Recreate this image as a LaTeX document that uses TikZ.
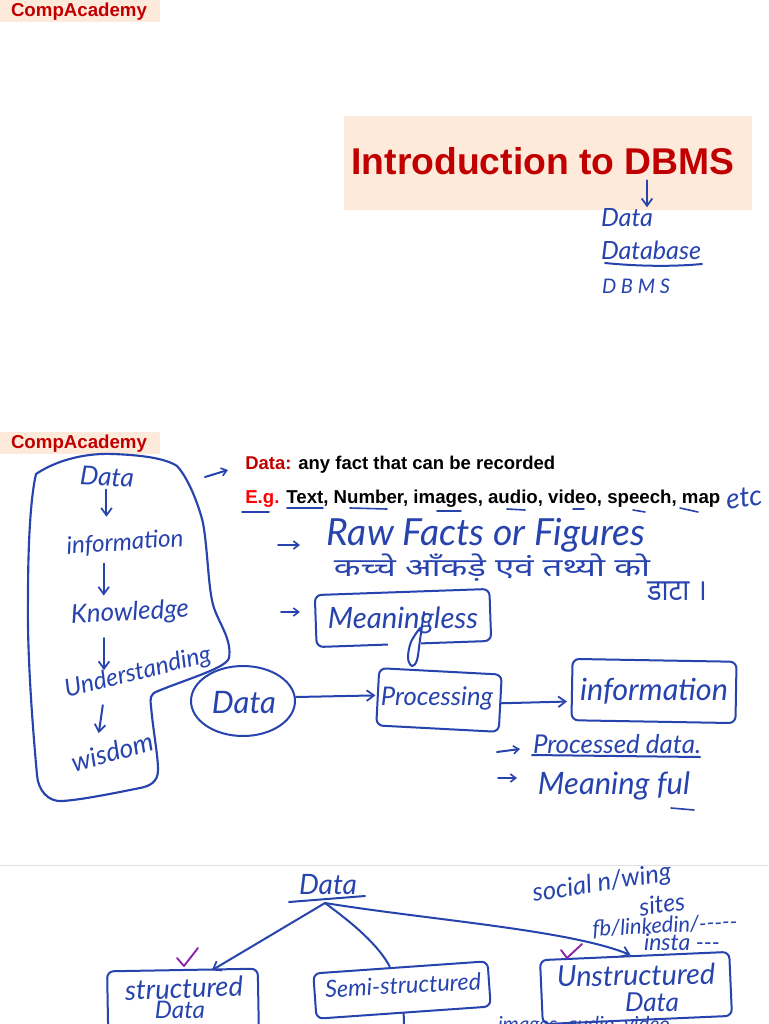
\documentclass[tikz,border=0pt]{standalone}
\usepackage{graphicx}
\usepackage{fontspec}
\setmainfont{Liberation Sans}
\newfontfamily\hand{Lato}
\newfontfamily\handdev[Script=Devanagari]{Noto Sans}
\usetikzlibrary{arrows.meta,shapes.geometric}
\definecolor{ink}{HTML}{2743AD}
\definecolor{peach}{HTML}{FDEADA}
\definecolor{darkred}{HTML}{C00000}
\definecolor{tick}{HTML}{8A22A8}
\newcommand\fitw[2]{\resizebox{\dimexpr #1pt*3/4\relax}{!}{#2}}
\newcommand\hw[2]{\fitw{#1}{\hand\itshape #2}}
\tikzset{
  ink line/.style={draw=ink,line width=1.5pt,line cap=round,line join=round},
  harr/.style={ink line,-{Straight Barb[length=5.5pt,width=8pt,line width=1.3pt]}},
  sarr/.style={ink line,-{Straight Barb[length=4pt,width=6pt,line width=1.2pt]}},
  hbox/.style={ink line,rectangle,rounded corners=5pt,inner sep=0pt,fill=none},
  hw text/.style={text=ink,inner sep=0pt},
  print/.style={inner sep=0pt,anchor=west},
  header/.style={fill=peach,draw=none},
  uline/.style={ink line,line width=1.2pt},
  checkm/.style={draw=tick,line width=1.4pt,line cap=round,line join=round},
}
\begin{document}
\begin{tikzpicture}[x=0.75pt,y=-0.75pt]
\path[use as bounding box,clip] (0,0) rectangle (768,1024);
\fill[white] (0,0) rectangle (768,1024);

% ---------- slide 1
\fill[header] (0,0) rectangle (160,22);
\node[inner sep=0pt,text=darkred] (h1) at (79,12) {\fitw{136}{\bfseries CompAcademy}};
\fill[header] (344,116) rectangle (752,210);
\node[inner sep=0pt,text=darkred] (title) at (543,161) {\fitw{383}{\bfseries Introduction to DBMS}};
\node[hw text] (a1) at (627,218) {\hw{52}{Data}};
\node[hw text] (a2) at (651,250) {\hw{100}{Database}};
\node[hw text] (a3) at (636,286) {\hw{68}{D B M S}};
\draw[harr] ([xshift=78pt,yshift=-4pt]title.south) -- ([xshift=15pt,yshift=1pt]a1.north);
\draw[uline,line width=1.5pt] (605,263) .. controls (635,266) and (670,267) .. (702,264);

% ---------- slide 2
\fill[header] (0,432) rectangle (160,454);
\node[inner sep=0pt,text=darkred] (h2) at (79,444) {\fitw{136}{\bfseries CompAcademy}};

\node[print] (t1) at (245,465) {\fitw{310}{\bfseries \textcolor{darkred}{Data:} any fact that can be recorded}};
\node[print] (t2) at (245,499) {\fitw{475}{\bfseries \textcolor{red}{E.g.} Text, Number, images, audio, video, speech, map}};
\node[hw text,rotate=8] (etc) at (744,498) {\hw{36}{etc}};
\foreach \a/\b/\c/\d in {242/512/269/512,287/508/323/508,350/508/387/509,437/511/461/511,507/509/525/510,573/509/584/509,633/510/645/512,680/508/698/512}
  \draw[uline] (\a,\b) -- (\c,\d);

% blob
\draw[ink line,line width=1.6pt] (36,474) .. controls (60,458) and (90,453) .. (113,454)
  .. controls (140,455) and (165,458) .. (177,466)
  .. controls (190,480) and (200,510) .. (203,523)
  .. controls (208,550) and (208,590) .. (214,608)
  .. controls (220,625) and (232,640) .. (229,658)
  .. controls (226,668) and (190,678) .. (158,691)
  .. controls (150,694) and (150,698) .. (151,706)
  .. controls (153,730) and (158,755) .. (158,770)
  .. controls (158,782) and (150,786) .. (140,788)
  .. controls (110,794) and (80,800) .. (62,801)
  .. controls (48,802) and (38,790) .. (37,775)
  .. controls (32,720) and (27,650) .. (28,597)
  .. controls (28,550) and (30,500) .. (36,474) -- cycle;
\node[hw text,rotate=-3] (d1) at (107,477) {\hw{54}{Data}};
\node[hw text,rotate=4] (d2) at (125,543) {\hw{117}{information}};
\node[hw text,rotate=3] (d3) at (130,613) {\hw{118}{Knowledge}};
\node[hw text,rotate=14] (d4) at (138,673) {\hw{150}{Understanding}};
\node[hw text,rotate=16] (d5) at (112,752) {\hw{84}{wisdom}};
\draw[harr] (d1.south) ++(0,3) -- ++(0,27);
\draw[harr] ([xshift=-16.5pt]d2.south) ++(0,10) -- ++(0,32);
\draw[harr] ([xshift=-20pt]d3.south) ++(0,13) -- ++(0,32);
\draw[harr] ([xshift=-28.5pt]d4.south) ++(0,21) -- ++(-4,28);

\draw[sarr] (205,477) -- (228,470);
\draw[sarr] (278,545) -- (300,545);
\draw[sarr] (281,612) -- (300,612);

\node[hw text] (raw) at (486,535) {\hw{318}{Raw Facts or Figures}};
\node[hw text] (hin) at (492,568) {\resizebox{237pt}{17pt}{\handdev कच्चे आँकड़े एवं तथ्यो को}};
\node[hw text] (hin2) at (677,591) {\resizebox{45pt}{14pt}{\handdev डाटा ।}};

\node[hbox,minimum width=131pt,minimum height=39pt,rotate=2] (mean) at (403,618) {};
\fill[white] (388,636) rectangle (421,652);
\node[hw text] (mtxt) at (403,620) {\hw{150}{Meaningless}};
\draw[ink line] plot[smooth,tension=0.6] coordinates {(424,612) (420,640) (417,660) (412,666) (408,658) (411,642) (420,628)};

\node[ellipse,ink line,minimum width=78pt,minimum height=52.5pt,inner sep=0pt] (dc) at (243,701) {};
\node[hw text] (dct) at (244,703) {\hw{64}{Data}};
\node[hbox,minimum width=92pt,minimum height=43pt,rotate=-3] (proc) at (439,700) {};
\node[hw text] (proct) at (437,698) {\hw{112}{Processing}};
\node[hbox,minimum width=123pt,minimum height=46pt,rotate=-1] (info) at (654,691) {};
\node[hw text] (infot) at (654,691) {\hw{148}{information}};
\draw[harr] ([yshift=3pt]dc.east) -- ([yshift=1pt,xshift=-1pt]proc.west);
\draw[harr] (proc.east) -- ([yshift=-9pt,xshift=-3pt]info.west);

\draw[sarr] (497,752) -- (520,749);
\draw[sarr] (498,778) -- (517,778);
\node[hw text] (pd) at (617,744) {\hw{168}{Processed data.}};
\draw[uline,line width=1.5pt] (532,755) -- (700,757);
\node[hw text] (mf) at (614,786) {\hw{152}{Meaning ful}};
\draw[uline] (671,808) -- (694,810);

% ---------- slide 3
\draw[black!12,line width=0.75pt] (0,865) -- (768,865);
\node[hw text] (dt) at (328,885) {\hw{58}{Data}};
\draw[uline,line width=1.5pt] (289,902) -- (365,896);
\coordinate (apex) at (325,903);

\node[hbox,minimum width=113pt,minimum height=48pt,rotate=1] (sb) at (183,1002) {};
\node[hw text,rotate=2] (sb1) at (184,988) {\hw{118}{structured}};
\node[hw text] (sb2) at (180,1010) {\hw{50}{Data}};
\node[hbox,minimum width=131pt,minimum height=34pt,rotate=4] (semi) at (402,990) {};
\node[hw text,rotate=3] (semit) at (403,985) {\hw{156}{Semi-structured}};
\node[hbox,minimum width=142pt,minimum height=48pt,rotate=2.5] (uns) at (636,988) {};
\node[hw text,rotate=1] (uns1) at (636,975) {\hw{158}{Unstructured}};
\node[hw text] (uns2) at (652,1002) {\hw{54}{Data}};

\draw[harr] (apex) -- ([xshift=22pt,yshift=-1pt]sb.north);
\draw[ink line] (apex) .. controls (355,925) and (378,945) .. ([xshift=-8pt]semi.north);
\draw[harr] (apex) .. controls (430,920) and (570,930) .. ([xshift=-3pt]uns.north);
\draw[ink line] (semi.south) -- (404,1024);

\draw[checkm] (177,958) -- (184,966) -- (198,948);
\draw[checkm] (561,950) -- (567,958) -- (582,944);

\node[hw text,rotate=9] (s1) at (602,884) {\hw{140}{social n/wing}};
\node[hw text,rotate=8] (s2) at (662,904) {\hw{46}{sites}};
\node[hw text,rotate=3] (s3) at (665,926) {\hw{145}{fb/linkedin/-----}};
\node[hw text] (s4) at (682,942) {\hw{76}{insta ---}};
\node[hw text] (bot) at (584,1026) {\hw{172}{images, audio, video}};
\end{tikzpicture}
\end{document}
